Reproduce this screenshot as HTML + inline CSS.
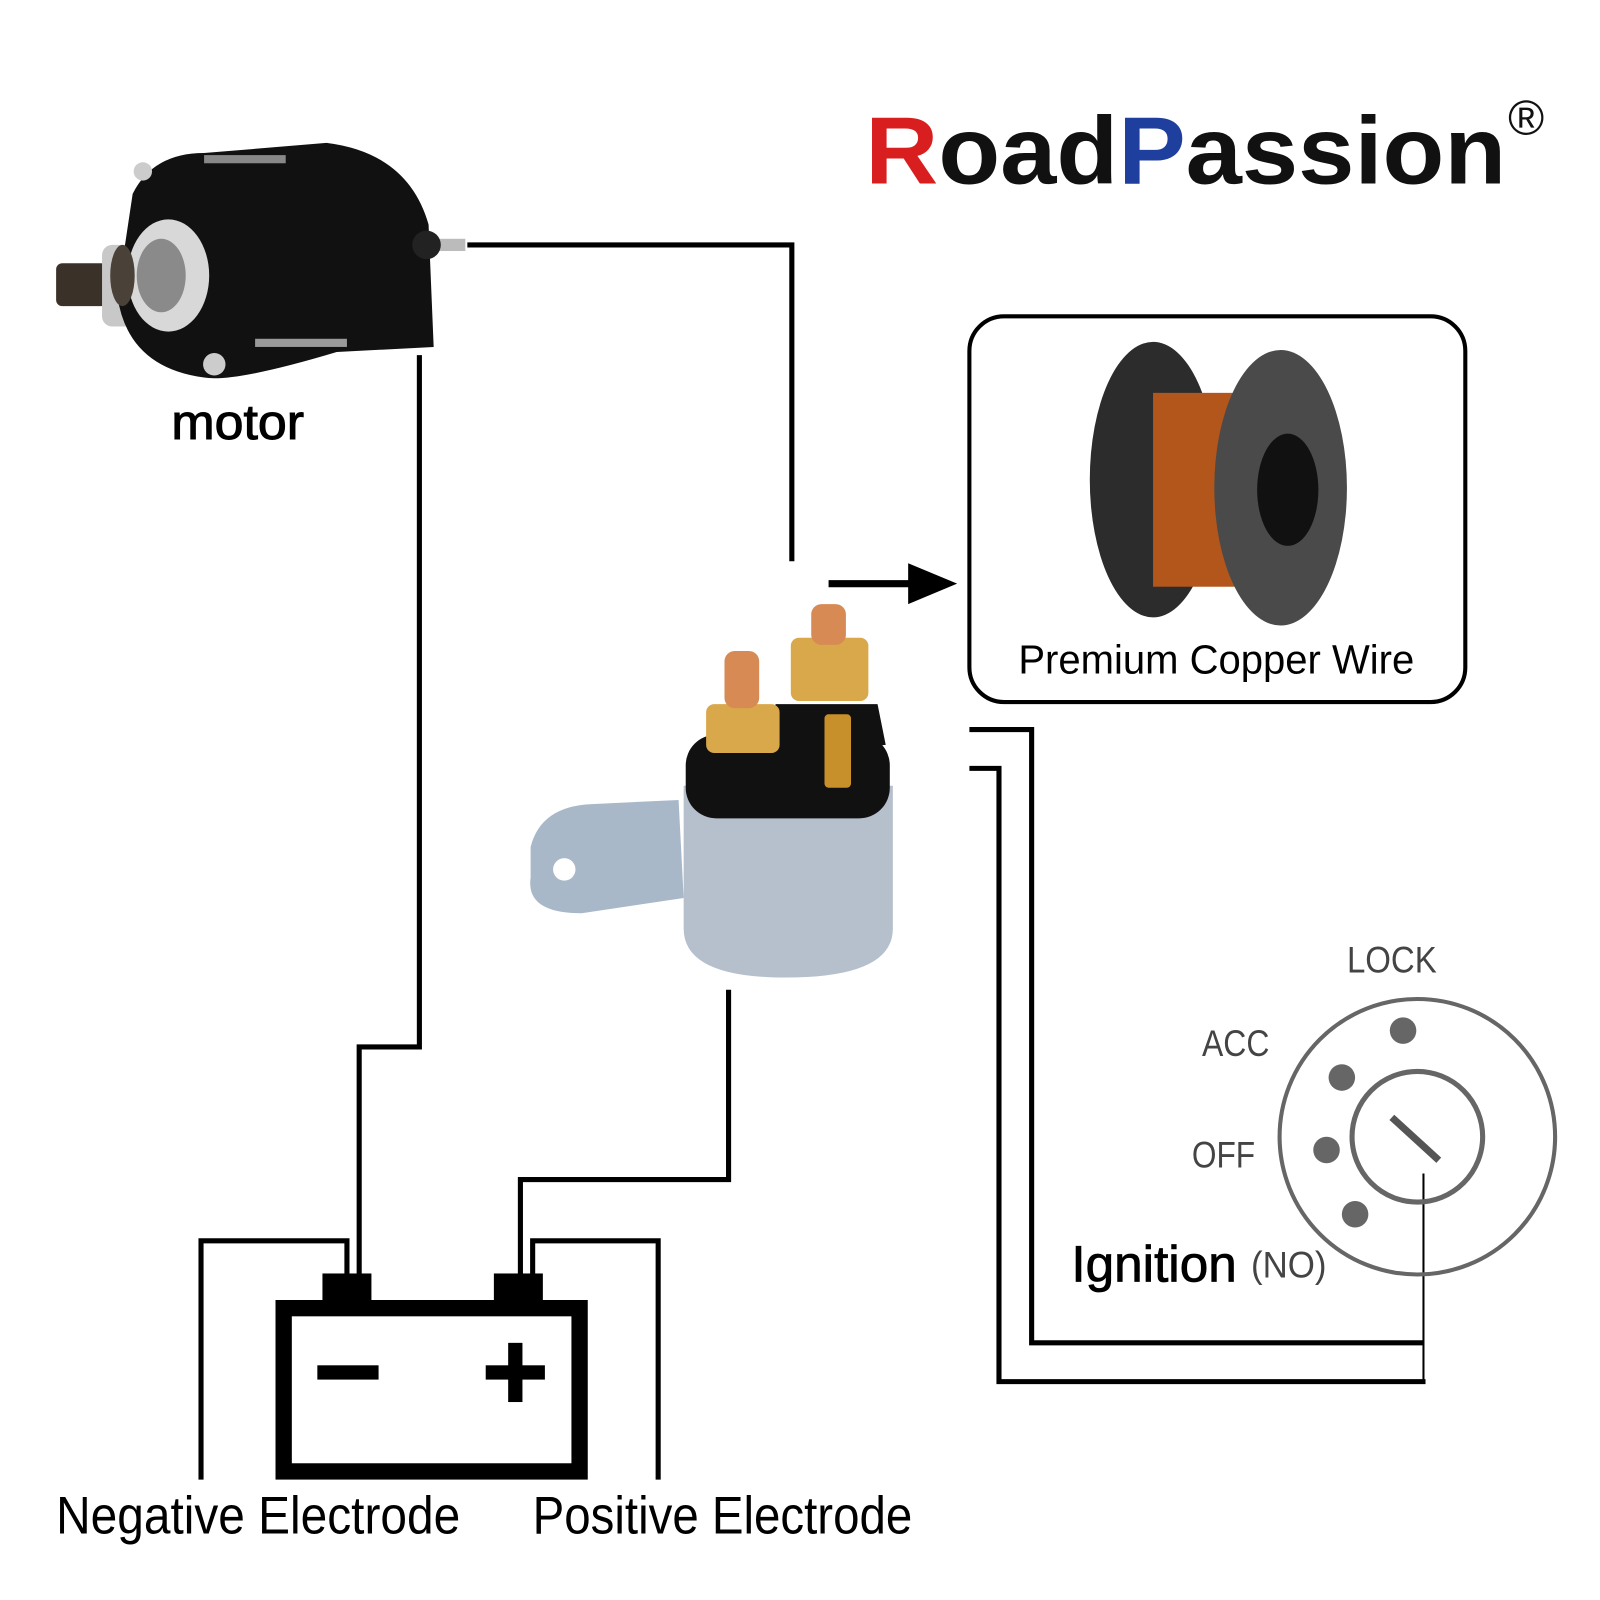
<!DOCTYPE html>
<html><head><meta charset="utf-8"><style>
html,body{margin:0;padding:0;background:#fff;}
svg{display:block}
text{font-family:"Liberation Sans","DejaVu Sans",sans-serif}
</style></head><body>
<svg width="1600" height="1600" viewBox="0 0 1568 1568" xmlns="http://www.w3.org/2000/svg">
<rect width="1568" height="1568" fill="#fff"/>
<!-- Logo -->
<text x="848" y="180" font-size="94" font-weight="bold" fill="#111" textLength="628" lengthAdjust="spacingAndGlyphs"><tspan fill="#d81e1e">R</tspan>oad<tspan fill="#1f3f9e">P</tspan>assion</text>
<text x="1478" y="132" font-size="48" fill="#111">®</text>

<!-- wires -->
<g fill="none" stroke="#000" stroke-width="5">
<polyline points="458,240 776,240 776,550"/>
<polyline points="411,348 411,1026 352,1026 352,1250"/>
<polyline points="714,970 714,1156 510,1156 510,1250"/>
<polyline points="340,1250 340,1216 197,1216 197,1450"/>
<polyline points="522,1250 522,1216 645,1216 645,1450"/>
<polyline points="950,715 1011,715 1011,1316 1395,1316"/>
<polyline points="950,753 979,753 979,1354 1397,1354"/>
</g>
<line x1="1395" y1="1150" x2="1395" y2="1356" stroke="#000" stroke-width="2"/>
<!-- arrow -->
<line x1="812" y1="572" x2="895" y2="572" stroke="#000" stroke-width="7"/>
<polygon points="890,552 938,572 890,592" fill="#000"/>

<!-- battery -->
<rect x="278" y="1282" width="290" height="160" fill="none" stroke="#000" stroke-width="16"/>
<rect x="316" y="1248" width="48" height="36" fill="#000"/>
<rect x="484" y="1248" width="48" height="36" fill="#000"/>
<rect x="311" y="1338" width="60" height="14" fill="#000"/>
<rect x="476" y="1338" width="58" height="14" fill="#000"/>
<rect x="498" y="1316" width="14" height="58" fill="#000"/>

<!-- motor (simplified) -->
<g>
<rect x="55" y="258" width="50" height="42" rx="6" fill="#3a3228"/>
<rect x="100" y="240" width="55" height="80" rx="10" fill="#c8c8c8"/>
<path d="M130 190 Q150 150 200 150 L320 140 Q400 150 420 220 L425 340 L330 345 Q230 375 200 370 Q125 360 115 290 Z" fill="#111"/>
<ellipse cx="165" cy="270" rx="40" ry="55" fill="#d8d8d8"/>
<ellipse cx="158" cy="270" rx="24" ry="36" fill="#8a8a8a"/>
<ellipse cx="120" cy="270" rx="12" ry="30" fill="#4a4238"/>
<rect x="200" y="152" width="80" height="8" fill="#888"/>
<rect x="250" y="332" width="90" height="8" fill="#999"/>
<circle cx="140" cy="168" r="9" fill="#ccc"/>
<circle cx="210" cy="357" r="11" fill="#ccc"/>
<rect x="420" y="234" width="36" height="12" fill="#bbb"/>
<circle cx="418" cy="240" r="14" fill="#222"/>
</g>
<text x="168" y="430" font-size="48" fill="#000" stroke="#000" stroke-width="1" textLength="130" lengthAdjust="spacingAndGlyphs">motor</text>

<!-- solenoid (simplified) -->
<g>
<path d="M520 830 Q530 790 580 788 L665 784 L670 880 L570 895 Q515 895 520 860 Z" fill="#a8b8c8"/>
<circle cx="553" cy="852" r="11" fill="#fff"/>
<path d="M670 770 L670 910 Q670 958 770 958 Q875 958 875 910 L875 770 Z" fill="#b5c0cc"/>
<rect x="672" y="720" width="200" height="82" rx="30" fill="#111"/>
<path d="M760 690 L860 690 L868 730 L760 740 Z" fill="#111"/>
<rect x="808" y="700" width="26" height="72" rx="4" fill="#c8902a"/>
<rect x="692" y="690" width="72" height="48" rx="8" fill="#d9a84a"/>
<rect x="710" y="638" width="34" height="56" rx="10" fill="#d88a55"/>
<rect x="775" y="625" width="76" height="62" rx="8" fill="#d9a84a"/>
<rect x="795" y="592" width="34" height="40" rx="10" fill="#d88a55"/>
</g>

<!-- copper wire box -->
<rect x="950" y="310" width="486" height="378" rx="34" fill="#fff" stroke="#000" stroke-width="4"/>
<ellipse cx="1130" cy="470" rx="62" ry="135" fill="#2c2c2c"/>
<rect x="1130" y="385" width="80" height="190" fill="#b2561c"/>
<ellipse cx="1255" cy="478" rx="65" ry="135" fill="#4a4a4a"/>
<ellipse cx="1262" cy="480" rx="30" ry="55" fill="#111"/>
<text x="998" y="660" font-size="40" fill="#000" textLength="388" lengthAdjust="spacingAndGlyphs">Premium Copper Wire</text>

<!-- ignition -->
<circle cx="1389" cy="1114" r="135" fill="none" stroke="#666" stroke-width="4"/>
<circle cx="1389" cy="1114" r="64" fill="none" stroke="#666" stroke-width="5"/>
<line x1="1364" y1="1095" x2="1410" y2="1137" stroke="#555" stroke-width="7"/>
<circle cx="1375" cy="1010" r="13" fill="#666"/>
<circle cx="1315" cy="1056" r="13" fill="#666"/>
<circle cx="1300" cy="1127" r="13" fill="#666"/>
<circle cx="1328" cy="1190" r="13" fill="#666"/>
<text x="1320" y="953" font-size="36" fill="#444" textLength="88" lengthAdjust="spacingAndGlyphs">LOCK</text>
<text x="1178" y="1035" font-size="36" fill="#444" textLength="66" lengthAdjust="spacingAndGlyphs">ACC</text>
<text x="1168" y="1144" font-size="36" fill="#444" textLength="62" lengthAdjust="spacingAndGlyphs">OFF</text>
<text x="1050" y="1256" font-size="50" fill="#000" stroke="#000" stroke-width="0.8" textLength="162" lengthAdjust="spacingAndGlyphs">Ignition</text>
<text x="1226" y="1252" font-size="36" fill="#444" textLength="74" lengthAdjust="spacingAndGlyphs">(NO)</text>

<text x="55" y="1503" font-size="52" fill="#000" textLength="396" lengthAdjust="spacingAndGlyphs">Negative Electrode</text>
<text x="522" y="1503" font-size="52" fill="#000" textLength="372" lengthAdjust="spacingAndGlyphs">Positive Electrode</text>
</svg>
</body></html>
